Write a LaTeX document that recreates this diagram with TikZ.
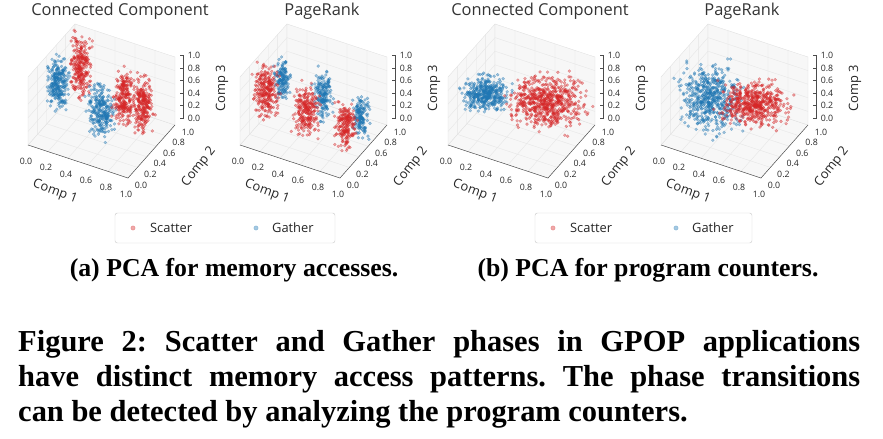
\documentclass[tikz,border=0pt]{standalone}
\usepackage{fontspec}
\setmainfont{Liberation Serif}
\newfontfamily\plotfont{Open Sans}
\usetikzlibrary{calc}
\definecolor{scat}{RGB}{214,39,40}
\definecolor{gath}{RGB}{31,119,180}
\frenchspacing
\tikzset{
  pane/.style={fill=gray!6, draw=gray!25, line width=0.3pt},
  gridl/.style={draw=gray!20, line width=0.3pt},
  tick/.style={font=\plotfont\fontsize{7.5}{8}\selectfont, inner sep=0.5pt, text=black!85},
  axlab/.style={font=\plotfont\fontsize{11}{12}\selectfont, inner sep=0pt, text=black!85},
  ptitle/.style={font=\plotfont\fontsize{14}{16}\selectfont, text=black!80},
  legtext/.style={font=\plotfont\fontsize{11}{12}\selectfont, anchor=west, text=black!85},
  dot/.style={fill opacity=0.4, draw opacity=0.5, line width=0.2pt}
}
% one 3d box, shifted by #1
\newcommand{\pcabox}[1]{
  \begin{scope}[xshift=#1*0.03cm]
    \coordinate (A) at (28,145); \coordinate (B) at (128,178);
    \coordinate (C) at (175,125); \coordinate (D) at (75,92);
    \filldraw[pane] (A) -- (B) -- (C) -- (D) -- cycle;
    \filldraw[pane] (A) -- (D) -- ++(0,-68) -- ($(A)+(0,-68)$) -- cycle;
    \filldraw[pane] (D) -- (C) -- ++(0,-68) -- ($(D)+(0,-68)$) -- cycle;
    \foreach \t in {0.2,0.4,...,0.81}{
      \draw[gridl] ($(A)!\t!(B)$) -- ($(D)!\t!(C)$) -- ++(0,-68);
      \draw[gridl] ($(B)!\t!(C)$) -- ($(A)!\t!(D)$) -- ++(0,-68);
      \draw[gridl] ($(A)+(0,-68*\t)$) -- ($(D)+(0,-68*\t)$) -- ($(C)+(0,-68*\t)$);
    }
    \draw[black!70] (A) -- (B) -- (C);
    \draw[black!70] (183,119) -- (183,55);
    \foreach \t [count=\k from 0] in {0.0,0.2,0.4,0.6,0.8,1.0}{
      \node[tick] at ($(A)!\k/5!(B)+(-2,16)$) {\t};
      \node[tick, anchor=west] at ($(B)!\k/5!(C)+(6,7)$) {\t};
      \node[tick, anchor=west] (z\k) at (187,{118-12.5*\k}) {\t};
      \draw[black!70] (183,{118-12.5*\k}) -- ++(-3,0);
    }
    \node[axlab, rotate=-20] (cx) at (55,192) {Comp 1};
    \node[axlab, rotate=52] (cy) at (199,167) {Comp 2};
    \node[axlab, rotate=90] (cz) at (222,88) {Comp 3};
  \end{scope}
}
% a cloud of points: x, y, rx, ry, colour, count
\newcommand{\blob}[6]{
  \foreach \i in {1,...,#6}{
    \pgfmathsetmacro\u{(rand+rand+rand)/2.2*#3}
    \pgfmathsetmacro\v{(rand+rand+rand)/2.2*#4}
    \filldraw[dot, fill=#5, draw=#5] ({#1+\u},{#2+\v}) circle (1.5);
  }
}
\begin{document}
\begin{tikzpicture}[x=0.03cm, y=-0.03cm]
  \useasboundingbox (0,0) rectangle (883,438);
  \pgfmathsetseed{7}
  % plot titles
  \node[ptitle] (t1) at (120,11) {Connected Component};
  \node[ptitle] (t2) at (322,11) {PageRank};
  \node[ptitle] (t3) at (540,11) {Connected Component};
  \node[ptitle] (t4) at (742,11) {PageRank};
  % (a) memory accesses
  \pcabox{0}
  \blob{58}{82}{11}{26}{gath}{260}
  \blob{81}{66}{11}{30}{scat}{260}
  \blob{101}{112}{13}{27}{gath}{260}
  \blob{124}{98}{11}{28}{scat}{240}
  \blob{143}{105}{10}{28}{scat}{240}
  \pcabox{212}
  \blob{282}{80}{8}{20}{gath}{150}
  \blob{266}{90}{12}{27}{scat}{260}
  \blob{323}{95}{9}{25}{gath}{180}
  \blob{306}{110}{12}{25}{scat}{240}
  \blob{361}{115}{8}{22}{gath}{150}
  \blob{346}{125}{10}{22}{scat}{200}
  % (b) program counters
  \pcabox{420}
  \blob{487}{94}{24}{18}{gath}{400}
  \blob{547}{102}{38}{26}{scat}{650}
  \pcabox{633}
  \blob{710}{98}{30}{32}{gath}{550}
  \blob{754}{104}{32}{22}{scat}{550}
  % legends
  \draw[gray!40, rounded corners=2] (115,213) rectangle (335,243);
  \filldraw[dot, fill=scat, draw=scat] (133,228) circle (2.2);
  \node[legtext] (la) at (146,228) {Scatter};
  \filldraw[dot, fill=gath, draw=gath] (256,228) circle (2.2);
  \node[legtext] (lb) at (268,228) {Gather};
  \draw[gray!40, rounded corners=2] (535,213) rectangle (752,243);
  \filldraw[dot, fill=scat, draw=scat] (553,228) circle (2.2);
  \node[legtext] (lc) at (566,228) {Scatter};
  \filldraw[dot, fill=gath, draw=gath] (676,228) circle (2.2);
  \node[legtext] (ld) at (688,228) {Gather};
  % sub captions
  \node[font=\bfseries\fontsize{22}{26}\selectfont] (ca) at (234,270) {(a) PCA for memory accesses.};
  \node[font=\bfseries\fontsize{22}{26}\selectfont] (cb) at (648,270) {(b) PCA for program counters.};
  % figure caption
  \node[font=\bfseries\fontsize{26}{29.8}\selectfont, anchor=north west, align=justify, text width=25.26cm,
        inner sep=0pt] (cap) at (18,330)
    {Figure 2: Scatter and Gather phases in GPOP applications\linebreak
     have distinct memory access patterns. The phase transitions\linebreak
     can be detected by analyzing the program counters.};
\end{tikzpicture}
\end{document}
